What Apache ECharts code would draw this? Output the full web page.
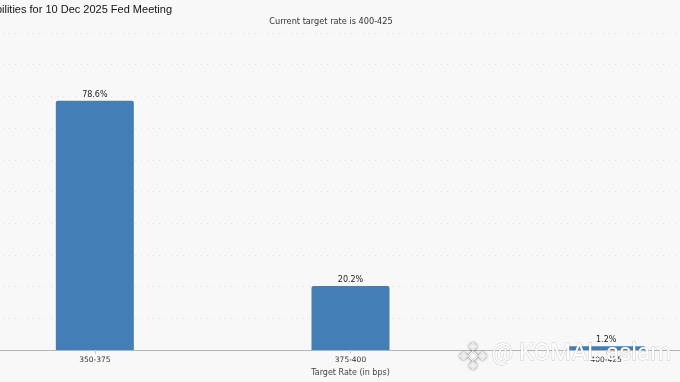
<!DOCTYPE html>
<html>
<head>
<meta charset="utf-8">
<style>
  html, body { margin: 0; padding: 0; background: #f8f8f8; }
  #chart { width: 680px; height: 382px; overflow: hidden; }
</style>
<script src="https://cdn.jsdelivr.net/npm/echarts@6/dist/echarts.min.js"></script>
</head>
<body>
<div id="chart"></div>
<script>
const categories = ['350-375', '375-400', '400-425']
const probabilities = [78.6, 20.2, 1.2]
const chartTitle = 'Target Rate Probabilities for 10 Dec 2025 Fed Meeting'
const subTitle = 'Current target rate is 400-425'
const xAxisName = 'Target Rate (in bps)'
const watermark = '@ KOMAL aslam'

const chart = echarts.init(document.getElementById('chart'))
const labelFont = 'DejaVu Sans'

// white glyphs with a soft shadow, same as the stamp over the reference
const stampStyle = { fill: '#fff', stroke: 'rgba(255,255,255,0.9)', lineWidth: 1, shadowColor: 'rgba(0,0,0,0.5)', shadowBlur: 3 }
const diamond = (x, y, r) => ({
  type: 'polygon',
  shape: { points: [[x, y - r], [x + r, y], [x, y + r], [x - r, y]] },
  style: stampStyle,
  z: 100
})

const option = {
  backgroundColor: '#f8f8f8',
  animation: false,
  title: [
    {
      text: chartTitle,
      right: 503,
      top: -1,
      textStyle: { color: '#111', fontFamily: 'Liberation Sans', fontWeight: 'normal', fontSize: 11 }
    },
    {
      text: subTitle,
      left: 326,
      top: 13,
      textAlign: 'center',
      textStyle: { color: '#333', fontFamily: labelFont, fontWeight: 'normal', fontSize: 8.2 }
    }
  ],
  grid: { left: -33, right: -54, top: 33, bottom: 32, outerBoundsMode: 'none' },
  xAxis: {
    type: 'category',
    data: categories,
    name: xAxisName,
    nameLocation: 'middle',
    nameGap: 19,
    nameTextStyle: { color: '#444', fontFamily: labelFont, fontSize: 8 },
    axisLine: { lineStyle: { color: '#b4b4b4', width: 1 } },
    axisTick: { show: true, alignWithLabel: true, length: 4, lineStyle: { color: '#ccc' } },
    axisLabel: { color: '#333', fontFamily: labelFont, fontSize: 7.5, margin: 6 }
  },
  yAxis: {
    type: 'value',
    min: 0,
    max: 100,
    interval: 10,
    axisLine: { show: false },
    axisTick: { show: false },
    axisLabel: { show: false },
    splitLine: { lineStyle: { color: '#e0e0e0', type: [1, 5], width: 1 } }
  },
  series: [
    {
      type: 'bar',
      data: probabilities,
      barWidth: 78,
      itemStyle: { color: '#437fb6', borderRadius: [2, 2, 0, 0] },
      label: {
        show: true,
        position: 'top',
        distance: 2,
        color: '#222',
        fontFamily: labelFont,
        fontSize: 8,
        formatter: (p) => p.value.toFixed(1) + '%'
      }
    }
  ],
  graphic: [
    diamond(473, 356, 5),
    diamond(473, 346.5, 4),
    diamond(473, 365.5, 4),
    diamond(463.5, 356, 4),
    diamond(482.5, 356, 4),
    {
      type: 'text',
      left: 491,
      top: 341,
      z: 100,
      style: {
        text: watermark,
        fontFamily: 'Roboto',
        fontSize: 24,
        fill: '#fff',
        stroke: 'rgba(90,90,90,0.28)',
        lineWidth: 1,
        shadowColor: 'rgba(0,0,0,0.6)',
        shadowBlur: 3
      }
    }
  ]
}
chart.setOption(option)
</script>
</body>
</html>
